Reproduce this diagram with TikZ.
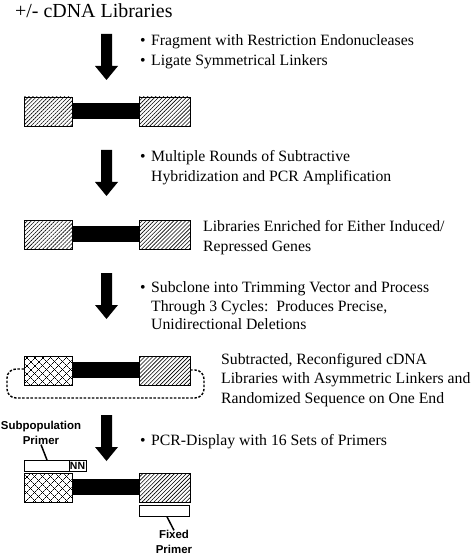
\documentclass[tikz,border=0pt]{standalone}
\usepackage{fontspec}
\setmainfont{Liberation Serif}
\newfontfamily\labfont{Liberation Sans}
\usepackage{tikz}
\usetikzlibrary{calc,patterns.meta}
\newcommand{\bul}{\makebox[11bp][l]{\textbullet}}
\tikzset{
  outline/.style={draw=black, line width=0.8bp},
  hatch/.style={outline, pattern={Lines[angle=45,distance=2.8bp,line width=0.6bp]}},
  xhatch/.style={outline, pattern={Lines[angle=45,distance=6bp,line width=0.6bp]},
    postaction={pattern={Lines[angle=-45,distance=6bp,line width=0.6bp]}}},
  insert/.style={fill=black},
  bigarrow/.style={fill=black},
  loopline/.style={draw=black, line width=1.4bp, dash pattern=on 2.5bp off 1.6bp, rounded corners=9bp},
  primer/.style={draw=black, line width=0.8bp, fill=white, inner sep=0pt, anchor=north west},
  leader/.style={draw=black, line width=1.5bp},
  lab/.style={anchor=base west, inner sep=0pt, font=\fontsize{15.8}{19}\selectfont},
  sublab/.style={align=center, inner sep=0pt, font=\labfont\bfseries\fontsize{11.5}{14.5}\selectfont},
}

\begin{document}
\begin{tikzpicture}[x=1bp, y=-1bp]
  \useasboundingbox (0,0) rectangle (474,557);

  \node[lab, font=\fontsize{20}{24}\selectfont] (title) at (15,18) {+/- cDNA Libraries};

  % block arrows
  \foreach \t in {34,150,273,415}
    \fill[bigarrow] (101,\t) -- (112,\t) -- (112,\t+32) -- (118,\t+32)
      -- (106.5,\t+46) -- (95,\t+32) -- (101,\t+32) -- cycle;

  % constructs: left linker, insert, right linker
  \foreach \y/\ls in {97/hatch, 220/hatch, 356/xhatch, 473/xhatch} {
    \fill[insert] (72,\y+6) rectangle (139,\y+22);
    \draw[\ls] (24,\y) rectangle (72,\y+29.5);
    \draw[hatch] (139,\y) rectangle (190,\y+29.5);
  }

  % dashed loop round the reconfigured construct
  \draw[loopline] (24,369) -- (7,369) -- (7,398) -- (204,398) -- (204,370) -- (190,370);

  % primers
  \node[primer, minimum width=62bp, minimum height=11bp] (subprimer) at (24,460) {};
  \draw[outline] (69,460) -- (69,471);
  \node[inner sep=0pt, font=\labfont\bfseries\fontsize{10.5}{11}\selectfont] (nn) at (77.5,465.8) {NN};
  \node[primer, minimum width=50bp, minimum height=11bp] (fixprimer) at (139,505) {};

  \node[sublab] (sublab) at (41,433) {Subpopulation\\Primer};
  \node[sublab] (fixlab) at (174,542) {Fixed\\Primer};
  \path (subprimer.north west) ++(23,0) coordinate (subtip);
  \path (fixprimer.south west) ++(28,0) coordinate (fixtip);
  \draw[leader] (sublab.south) -- (subtip);
  \draw[leader] (fixtip) -- (fixlab.north);

  % step texts
  \node[lab] (s1a) at (140,46) {\bul Fragment with Restriction Endonucleases};
  \node[lab] (s1b) at (140,66) {\bul Ligate Symmetrical Linkers};
  \node[lab] (s2a) at (140,162) {\bul Multiple Rounds of Subtractive};
  \node[lab] (s2b) at (151,182) {Hybridization and PCR Amplification};
  \node[lab] (r1a) at (203,231) {Libraries Enriched for Either Induced/};
  \node[lab] (r1b) at (203,251) {Repressed Genes};
  \node[lab] (s3a) at (140,292) {\bul Subclone into Trimming Vector and Process};
  \node[lab] (s3b) at (151,311) {Through 3 Cycles:\ \ Produces Precise,};
  \node[lab] (s3c) at (151,329) {Unidirectional Deletions};
  \node[lab] (r2a) at (221,364) {Subtracted, Reconfigured cDNA};
  \node[lab] (r2b) at (221,383) {Libraries with Asymmetric Linkers and};
  \node[lab] (r2c) at (221,403) {Randomized Sequence on One End};
  \node[lab] (s4a) at (140,445) {\bul PCR-Display with 16 Sets of Primers};
\end{tikzpicture}
\end{document}
